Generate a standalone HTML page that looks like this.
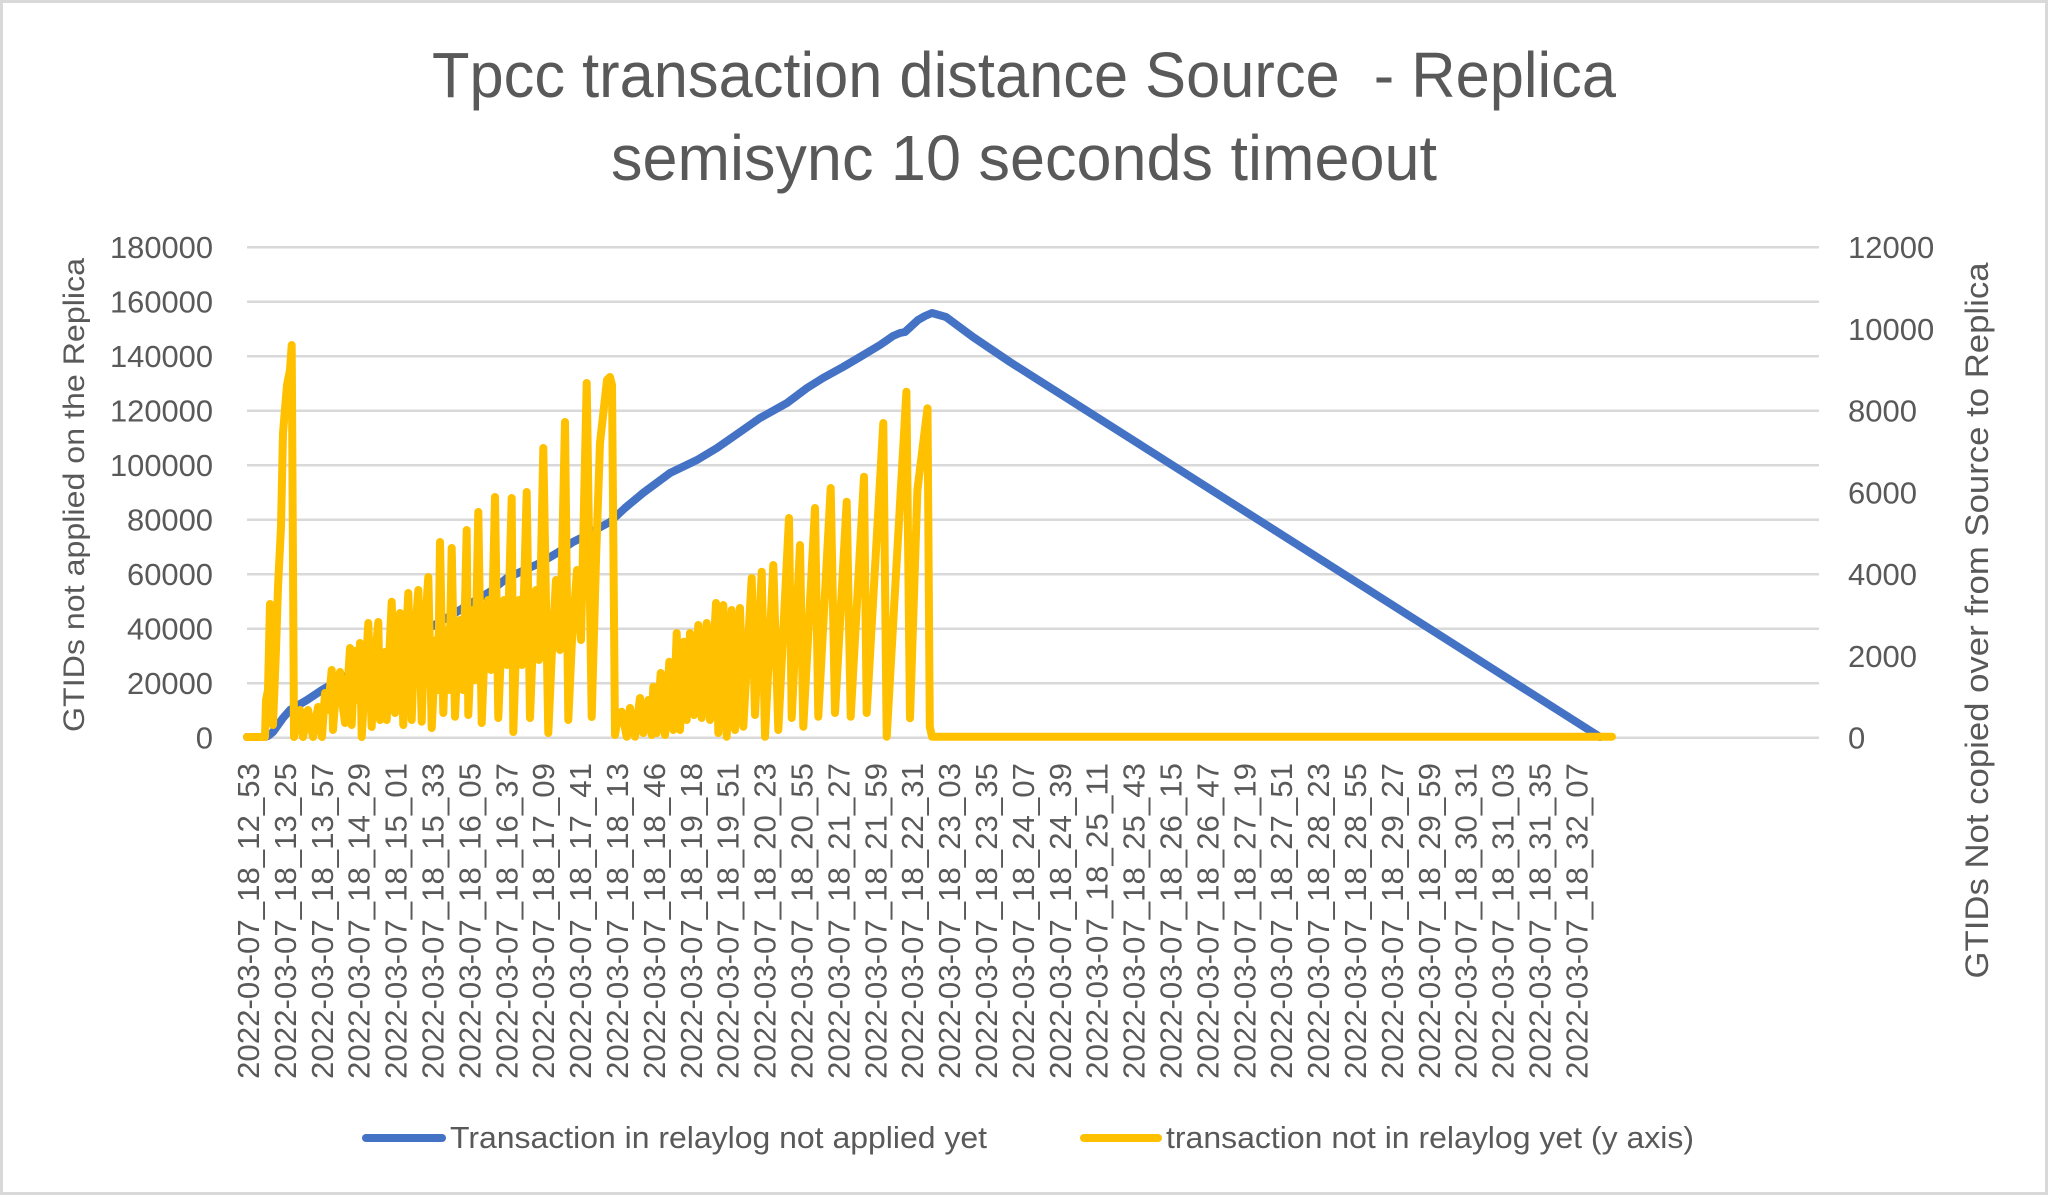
<!DOCTYPE html>
<html><head><meta charset="utf-8"><style>
html,body{margin:0;padding:0;background:#fff;}
svg{display:block;}
text{font-family:"Liberation Sans",Arial,sans-serif;fill:#595959;}
</style></head><body>
<svg width="2048" height="1195" viewBox="0 0 2048 1195" xmlns="http://www.w3.org/2000/svg">
<rect x="0" y="0" width="2048" height="1195" fill="#fff"/>
<rect x="1.5" y="1.5" width="2045" height="1192" fill="none" stroke="#d9d9d9" stroke-width="3"/>

<!-- Title -->
<text x="1024" y="97" font-size="64" text-anchor="middle" textLength="1184" lengthAdjust="spacingAndGlyphs">Tpcc transaction distance Source &#160;- Replica</text>
<text x="1024" y="180" font-size="64" text-anchor="middle" textLength="826" lengthAdjust="spacingAndGlyphs">semisync 10 seconds timeout</text>

<!-- Gridlines -->
<g stroke="#d9d9d9" stroke-width="2.5">
<line x1="247" y1="737.7" x2="1819" y2="737.7"/>
<line x1="247" y1="683.2" x2="1819" y2="683.2"/>
<line x1="247" y1="628.7" x2="1819" y2="628.7"/>
<line x1="247" y1="574.2" x2="1819" y2="574.2"/>
<line x1="247" y1="519.7" x2="1819" y2="519.7"/>
<line x1="247" y1="465.2" x2="1819" y2="465.2"/>
<line x1="247" y1="410.7" x2="1819" y2="410.7"/>
<line x1="247" y1="356.2" x2="1819" y2="356.2"/>
<line x1="247" y1="301.7" x2="1819" y2="301.7"/>
<line x1="247" y1="247.2" x2="1819" y2="247.2"/>
</g>

<!-- Left axis labels -->
<g font-size="31" text-anchor="end">
<text x="213" y="748.7">0</text>
<text x="213" y="694.2" textLength="86" lengthAdjust="spacingAndGlyphs">20000</text>
<text x="213" y="639.7" textLength="86" lengthAdjust="spacingAndGlyphs">40000</text>
<text x="213" y="585.2" textLength="86" lengthAdjust="spacingAndGlyphs">60000</text>
<text x="213" y="530.7" textLength="86" lengthAdjust="spacingAndGlyphs">80000</text>
<text x="213" y="476.2" textLength="103" lengthAdjust="spacingAndGlyphs">100000</text>
<text x="213" y="421.7" textLength="103" lengthAdjust="spacingAndGlyphs">120000</text>
<text x="213" y="367.2" textLength="103" lengthAdjust="spacingAndGlyphs">140000</text>
<text x="213" y="312.7" textLength="103" lengthAdjust="spacingAndGlyphs">160000</text>
<text x="213" y="258.2" textLength="103" lengthAdjust="spacingAndGlyphs">180000</text>
</g>

<!-- Right axis labels -->
<g font-size="31" text-anchor="start">
<text x="1848" y="748.7">0</text>
<text x="1848" y="666.95">2000</text>
<text x="1848" y="585.2">4000</text>
<text x="1848" y="503.45">6000</text>
<text x="1848" y="421.7">8000</text>
<text x="1848" y="339.95">10000</text>
<text x="1848" y="258.2">12000</text>
</g>

<!-- Axis titles -->
<text transform="translate(84,495) rotate(-90)" font-size="30" text-anchor="middle" textLength="474" lengthAdjust="spacingAndGlyphs">GTIDs not applied on the Replica</text>
<text transform="translate(1988,620.5) rotate(-90)" font-size="32" text-anchor="middle" textLength="716" lengthAdjust="spacingAndGlyphs">GTIDs Not copied over from Source to Replica</text>

<!-- X axis labels -->
<g font-size="31" text-anchor="end">
<text transform="translate(259,763) rotate(-90)" textLength="316" lengthAdjust="spacingAndGlyphs">2022-03-07_18_12_53</text>
<text transform="translate(295.9,763) rotate(-90)" textLength="316" lengthAdjust="spacingAndGlyphs">2022-03-07_18_13_25</text>
<text transform="translate(332.8,763) rotate(-90)" textLength="316" lengthAdjust="spacingAndGlyphs">2022-03-07_18_13_57</text>
<text transform="translate(369.7,763) rotate(-90)" textLength="316" lengthAdjust="spacingAndGlyphs">2022-03-07_18_14_29</text>
<text transform="translate(406.6,763) rotate(-90)" textLength="316" lengthAdjust="spacingAndGlyphs">2022-03-07_18_15_01</text>
<text transform="translate(443.5,763) rotate(-90)" textLength="316" lengthAdjust="spacingAndGlyphs">2022-03-07_18_15_33</text>
<text transform="translate(480.4,763) rotate(-90)" textLength="316" lengthAdjust="spacingAndGlyphs">2022-03-07_18_16_05</text>
<text transform="translate(517.3,763) rotate(-90)" textLength="316" lengthAdjust="spacingAndGlyphs">2022-03-07_18_16_37</text>
<text transform="translate(554.2,763) rotate(-90)" textLength="316" lengthAdjust="spacingAndGlyphs">2022-03-07_18_17_09</text>
<text transform="translate(591.1,763) rotate(-90)" textLength="316" lengthAdjust="spacingAndGlyphs">2022-03-07_18_17_41</text>
<text transform="translate(628,763) rotate(-90)" textLength="316" lengthAdjust="spacingAndGlyphs">2022-03-07_18_18_13</text>
<text transform="translate(664.9,763) rotate(-90)" textLength="316" lengthAdjust="spacingAndGlyphs">2022-03-07_18_18_46</text>
<text transform="translate(701.8,763) rotate(-90)" textLength="316" lengthAdjust="spacingAndGlyphs">2022-03-07_18_19_18</text>
<text transform="translate(738.7,763) rotate(-90)" textLength="316" lengthAdjust="spacingAndGlyphs">2022-03-07_18_19_51</text>
<text transform="translate(775.6,763) rotate(-90)" textLength="316" lengthAdjust="spacingAndGlyphs">2022-03-07_18_20_23</text>
<text transform="translate(812.5,763) rotate(-90)" textLength="316" lengthAdjust="spacingAndGlyphs">2022-03-07_18_20_55</text>
<text transform="translate(849.4,763) rotate(-90)" textLength="316" lengthAdjust="spacingAndGlyphs">2022-03-07_18_21_27</text>
<text transform="translate(886.3,763) rotate(-90)" textLength="316" lengthAdjust="spacingAndGlyphs">2022-03-07_18_21_59</text>
<text transform="translate(923.2,763) rotate(-90)" textLength="316" lengthAdjust="spacingAndGlyphs">2022-03-07_18_22_31</text>
<text transform="translate(960.1,763) rotate(-90)" textLength="316" lengthAdjust="spacingAndGlyphs">2022-03-07_18_23_03</text>
<text transform="translate(997,763) rotate(-90)" textLength="316" lengthAdjust="spacingAndGlyphs">2022-03-07_18_23_35</text>
<text transform="translate(1033.9,763) rotate(-90)" textLength="316" lengthAdjust="spacingAndGlyphs">2022-03-07_18_24_07</text>
<text transform="translate(1070.8,763) rotate(-90)" textLength="316" lengthAdjust="spacingAndGlyphs">2022-03-07_18_24_39</text>
<text transform="translate(1107.7,763) rotate(-90)" textLength="316" lengthAdjust="spacingAndGlyphs">2022-03-07_18_25_11</text>
<text transform="translate(1144.6,763) rotate(-90)" textLength="316" lengthAdjust="spacingAndGlyphs">2022-03-07_18_25_43</text>
<text transform="translate(1181.5,763) rotate(-90)" textLength="316" lengthAdjust="spacingAndGlyphs">2022-03-07_18_26_15</text>
<text transform="translate(1218.4,763) rotate(-90)" textLength="316" lengthAdjust="spacingAndGlyphs">2022-03-07_18_26_47</text>
<text transform="translate(1255.3,763) rotate(-90)" textLength="316" lengthAdjust="spacingAndGlyphs">2022-03-07_18_27_19</text>
<text transform="translate(1292.2,763) rotate(-90)" textLength="316" lengthAdjust="spacingAndGlyphs">2022-03-07_18_27_51</text>
<text transform="translate(1329.1,763) rotate(-90)" textLength="316" lengthAdjust="spacingAndGlyphs">2022-03-07_18_28_23</text>
<text transform="translate(1366,763) rotate(-90)" textLength="316" lengthAdjust="spacingAndGlyphs">2022-03-07_18_28_55</text>
<text transform="translate(1402.9,763) rotate(-90)" textLength="316" lengthAdjust="spacingAndGlyphs">2022-03-07_18_29_27</text>
<text transform="translate(1439.8,763) rotate(-90)" textLength="316" lengthAdjust="spacingAndGlyphs">2022-03-07_18_29_59</text>
<text transform="translate(1476.7,763) rotate(-90)" textLength="316" lengthAdjust="spacingAndGlyphs">2022-03-07_18_30_31</text>
<text transform="translate(1513.6,763) rotate(-90)" textLength="316" lengthAdjust="spacingAndGlyphs">2022-03-07_18_31_03</text>
<text transform="translate(1550.5,763) rotate(-90)" textLength="316" lengthAdjust="spacingAndGlyphs">2022-03-07_18_31_35</text>
<text transform="translate(1587.4,763) rotate(-90)" textLength="316" lengthAdjust="spacingAndGlyphs">2022-03-07_18_32_07</text>
</g>

<!-- Blue series -->
<polyline fill="none" stroke="#4472c4" stroke-width="8" stroke-linejoin="round" stroke-linecap="round"
points="247,737 265,737 268,736 273,732 283,718 290,710 307,700 322,690 360,668 400,645 450,616 491,591 507,578 540,563 557,553 573,542 583,537 593,531 610,522 625,508 643,493 670,473 697,460 717,448 740,432 760,418 787,403 807,388 823,378 843,367 860,357 880,345 893,336 900,333 905,332 918,320 925,316 932,313 946,317 973,337 1010,362 1600,737"/>

<!-- Yellow series -->
<polyline fill="none" stroke="#ffc000" stroke-width="8" stroke-linejoin="round" stroke-linecap="round"
points="247,737 265,737 266,700 268,690 270,604 273,725 276,650 278,587 281,527 283,433 287,385 290,370 291.7,345 294,737 297,720 300,710 303,737 308,710 313,737 318,707 322,737 325,693 328,710 331.7,670 333,730 336,690 340,672 342,700 345,723 348,680 350,648 351.7,725 355,651 358,700 360,643 361.7,737 365,680 368.3,623 371.7,727 374,670 378.3,622 380,720 382,680 385,652 386.7,720 389,660 391.7,601.7 395,713 397,660 400,613 403.3,725 405,660 408.3,593 411.7,720 414,650 418.3,590 421.7,721.7 424,640 428.3,577 431.7,728 434,680 436,640 438,690 440,542 443.3,713 445,660 447,630 449,690 451.7,548 455,716.7 458,650 460,620 463,690 466.7,530 468.3,715 471,650 473,610 475,680 478.3,512 481.7,723 485,640 488,600 491,670 495,497 498.3,718 501,650 504,600 507,665 511.7,498 513.3,732 516,650 519,600 522,665 526.7,492 530,718 533,640 536,590 539,660 543.3,448 548.3,733 552,650 556,580 560,650 565,422 568.3,720 572,640 577,570 581,640 586.7,383 591.7,717 596,560 600,443 607,380 610,377 612,385 615,735 618,716 621.7,711.7 626.7,736.7 630,708 635,736.7 640,698 643.3,733 648.3,700 651.7,735 653.3,686.7 656.7,733 660.7,673 665,735 669.3,661.7 673.3,730 676.7,633 680,730 684,641.7 686.7,720 690,633 694,715 698.3,625 701.7,718 706.7,623 710,720 716,603 718.3,733 723.3,605 726.7,736.7 731.7,610 735,730 740,608 743.3,726.7 751.7,578 755,715 761.7,571.7 765,736.7 773.3,565 778.3,730 789,518 791.7,718 800,545 803.3,726.7 815,508 818.3,716.7 830.7,488 835,713 846.7,501.7 850.7,716.7 864,476.7 866.7,713 883.3,423 886.7,736.7 906.4,391.7 910,718.3 917.4,490 927.5,408.3 929.8,726.7 932,736.7 1612,736.7"/>

<!-- Legend -->
<line x1="366" y1="1138" x2="442" y2="1138" stroke="#4472c4" stroke-width="8" stroke-linecap="round"/>
<text x="450" y="1148" font-size="31" textLength="537" lengthAdjust="spacingAndGlyphs">Transaction in relaylog not applied yet</text>
<line x1="1084" y1="1138" x2="1158" y2="1138" stroke="#ffc000" stroke-width="8" stroke-linecap="round"/>
<text x="1166" y="1148" font-size="31" textLength="528" lengthAdjust="spacingAndGlyphs">transaction not in relaylog yet (y axis)</text>
</svg>
</body></html>
